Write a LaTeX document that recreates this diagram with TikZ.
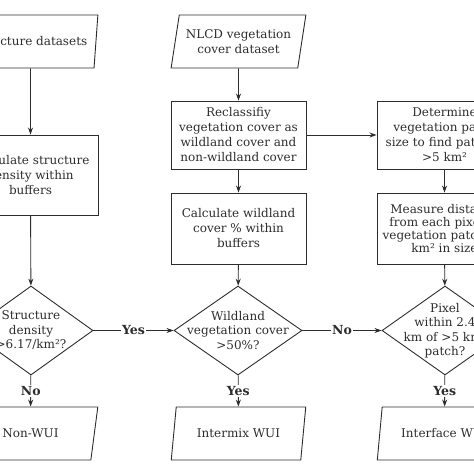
\documentclass[tikz,border=0pt]{standalone}
\usepackage{fontspec}
\setmainfont{DejaVu Serif}
\usepackage{xcolor}
\usepackage{tikz}
\usetikzlibrary{arrows.meta}
\usetikzlibrary{shapes.geometric}
\definecolor{ink}{RGB}{45,45,45}
\tikzset{
    flow/.style = {align=center, inner sep=2pt, text centered, draw=ink, text=ink, line width=0.9pt, font=\fontsize{12}{15}\selectfont},
    proc_node/.style = {flow, rectangle, minimum width=135pt, minimum height=#1},
    data_node/.style = {flow, trapezium, trapezium left angle=75, trapezium right angle=105, trapezium stretches=true, minimum width=135pt, minimum height=53pt},
    dec_node/.style = {flow, diamond, minimum width=#1, minimum height=89pt, inner sep=0pt},
    dec_text/.style = {align=center, inner sep=0pt, text=ink, font=\fontsize{12}{14.5}\selectfont},
    ans/.style = {fill=white, inner sep=1pt, text=ink, font=\bfseries\fontsize{12.5}{14}\selectfont}
}

\begin{document}
\begin{tikzpicture}[x=1pt, y=-1pt, ->, >={Stealth[length=7pt, width=5pt]}, line width=0.9pt, draw=ink]
    \useasboundingbox (0,0) rectangle (474,474);
    \clip (0,0) rectangle (474,474);
    \node [data_node] (sdata) at (30.5,41.5) {Structure datasets};
    \node [proc_node=80pt] (scalc) at (30.5,175) {Calculate structure\\density within\\buffers};
    \node [dec_node=124pt, label={[dec_text]center:{Structure\\density\\>6.17/km²?}}] (sdec) at (31,330.5) {};
    \node [data_node] (nonwui) at (30.5,433.5) {Non-WUI};

    \node [data_node] (nlcd) at (238.5,41.5) {NLCD vegetation\\cover dataset};
    \node [proc_node=68pt] (reclass) at (238.5,135) {Reclassifiy\\vegetation cover as\\wildland cover and\\non-wildland cover};
    \node [proc_node=71pt] (wcalc) at (238.5,228.5) {Calculate wildland\\cover \% within\\buffers};
    \node [dec_node=128pt, label={[dec_text]center:{Wildland\\vegetation cover\\>50\%?}}] (wdec) at (238,330.5) {};
    \node [data_node] (intermix) at (238.5,433.5) {Intermix WUI};

    \node [proc_node=68pt] (patch) at (444.5,135) {Determine\\vegetation patch\\size to find patches\\>5 km²};
    \node [proc_node=71pt, font=\fontsize{12}{12.9}\selectfont] (dist) at (444.5,228.5) {Measure distance\\from each pixel to\\vegetation patch >5\\km² in size};
    \node [dec_node=126pt, label={[dec_text]center:{Pixel\\within 2.4\\km of >5 km²\\patch?}}] (pdec) at (445,330.5) {};
    \node [data_node] (interface) at (444.5,433.5) {Interface WUI};

    \draw (sdata) -- (scalc);
    \draw (scalc) -- (sdec);
    \draw (sdec) -- node [ans] {No} (nonwui);
    \draw (sdec) -- node [ans] {Yes} (wdec);
    \draw (nlcd) -- (reclass);
    \draw (reclass) -- (wcalc);
    \draw (wcalc) -- (wdec);
    \draw (wdec) -- node [ans] {Yes} (intermix);
    \draw (wdec) -- node [ans] {No} (pdec);
    \draw (reclass) -- (patch);
    \draw (patch) -- (dist);
    \draw (dist) -- (pdec);
    \draw (pdec) -- node [ans] {Yes} (interface);
\end{tikzpicture}
\end{document}
